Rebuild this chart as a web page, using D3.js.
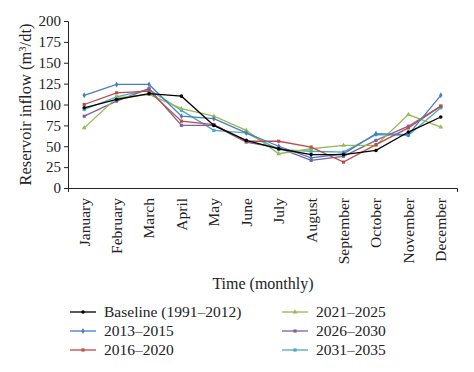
<!DOCTYPE html>
<html>
<head>
<meta charset="utf-8">
<script src="https://cdn.jsdelivr.net/npm/d3@7"></script>
<style>
  body { margin: 0; background: #fff; }
  svg text { font-family: "Liberation Serif", "DejaVu Serif", serif; fill: #222; }
</style>
</head>
<body>
<div id="chart"></div>
<script>
// months on the x axis
var months = ["January", "February", "March", "April", "May", "June",
  "July", "August", "September", "October", "November", "December"];

// series values (m3/dt)
var baseline = [96, 106, 113, 110, 75, 57, 47, 40, 40, 45, 67, 85];
var s2013 = [111, 124, 124, 86, 83, 66, 50, 36, 41, 65, 64, 111];
var s2016 = [100, 114, 116, 80, 76, 56, 56, 49, 31, 52, 72, 98];
var s2021 = [72, 108, 112, 95, 86, 69, 41, 47, 51, 51, 88, 73];
var s2026 = [86, 104, 119, 75, 75, 55, 48, 33, 38, 57, 74, 98];
var s2031 = [94, 109, 118, 93, 69, 66, 46, 44, 43, 64, 63, 96];

var seriesNames = ["Baseline (1991\u20132012)", "2013\u20132015", "2016\u20132020",
  "2021\u20132025", "2026\u20132030", "2031\u20132035"];
var seriesValues = [baseline, s2013, s2016, s2021, s2026, s2031];
var seriesColors = ["#000000", "#4a7ebb", "#be4b48", "#98b954", "#7d60a0", "#46aac5"];
var seriesMarkers = [d3.symbolCircle, d3.symbolDiamond, d3.symbolSquare,
  d3.symbolTriangle, d3.symbolSquare, d3.symbolSquare];

var yTicks = [0, 25, 50, 75, 100, 125, 150, 175, 200];

var width = 474, height = 372;
var margin = {top: 21, right: 17, bottom: 184, left: 68};

var svg = d3.select("#chart").append("svg")
  .attr("width", width)
  .attr("height", height);

var x = d3.scaleBand()
  .domain(months)
  .range([margin.left, width - margin.right]);

var y = d3.scaleLinear()
  .domain([0, 200])
  .range([height - margin.bottom, margin.top]);

// y axis
var yAxis = svg.append("g")
  .attr("transform", "translate(" + margin.left + ",0)")
  .call(d3.axisLeft(y).tickValues(yTicks).tickSize(4).tickPadding(3));
yAxis.selectAll("text").style("font-size", "15px").style("font-family", "Liberation Serif, serif").attr("fill", "#222");
yAxis.selectAll("line, path").attr("stroke", "#222");

// x axis
var xAxis = svg.append("g")
  .attr("transform", "translate(0," + (height - margin.bottom) + ")")
  .call(d3.axisBottom(x).tickSizeInner(0).tickSizeOuter(4));
xAxis.selectAll("line, path").attr("stroke", "#222");
xAxis.selectAll("text")
  .style("font-size", "15.5px")
  .style("font-family", "Liberation Serif, serif")
  .attr("fill", "#222")
  .attr("text-anchor", "end")
  .attr("dy", "0.35em")
  .attr("transform", "translate(0,10) rotate(-90)")
  .attr("x", 0)
  .attr("y", 0);

// axis titles
var yTitle = svg.append("text")
  .attr("transform", "translate(31," + ((margin.top + height - margin.bottom) / 2) + ") rotate(-90)")
  .attr("text-anchor", "middle")
  .style("font-size", "16.5px");
yTitle.append("tspan").text("Reservoir inflow (m");
yTitle.append("tspan").attr("baseline-shift", "super").style("font-size", "10.5px").text("3");
yTitle.append("tspan").text("/dt)");

svg.append("text")
  .attr("x", 263)
  .attr("y", 289)
  .attr("text-anchor", "middle")
  .style("font-size", "16px")
  .text("Time (monthly)");

// lines
var line = d3.line()
  .x(function(d, i) { return x(months[i]) + x.bandwidth() / 2; })
  .y(function(d) { return y(d); });

var order = [5, 4, 3, 2, 1, 0];
order.forEach(function(k) {
  var g = svg.append("g");
  g.append("path")
    .datum(seriesValues[k])
    .attr("fill", "none")
    .attr("stroke", seriesColors[k])
    .attr("stroke-width", 1.3)
    .attr("d", line);
  g.selectAll("path.pt")
    .data(seriesValues[k])
    .enter().append("path")
    .attr("class", "pt")
    .attr("d", d3.symbol().type(seriesMarkers[k]).size(10))
    .attr("fill", seriesColors[k])
    .attr("transform", function(d, i) {
      return "translate(" + (x(months[i]) + x.bandwidth() / 2) + "," + y(d) + ")";
    });
});

// legend
var legendX = [70, 282];
var legendY = [312, 331, 350];
seriesNames.forEach(function(name, i) {
  var col = Math.floor(i / 3), row = i % 3;
  var lg = svg.append("g")
    .attr("transform", "translate(" + legendX[col] + "," + legendY[row] + ")");
  lg.append("line")
    .attr("x1", 0).attr("x2", 26)
    .attr("y1", 0).attr("y2", 0)
    .attr("stroke", seriesColors[i])
    .attr("stroke-width", 1.3);
  lg.append("path")
    .attr("d", d3.symbol().type(seriesMarkers[i]).size(10))
    .attr("fill", seriesColors[i])
    .attr("transform", "translate(13,0)");
  lg.append("text")
    .attr("x", 34)
    .attr("y", 0)
    .attr("dy", "0.35em")
    .style("font-size", "15.5px")
    .text(name);
});
</script>
</body>
</html>
